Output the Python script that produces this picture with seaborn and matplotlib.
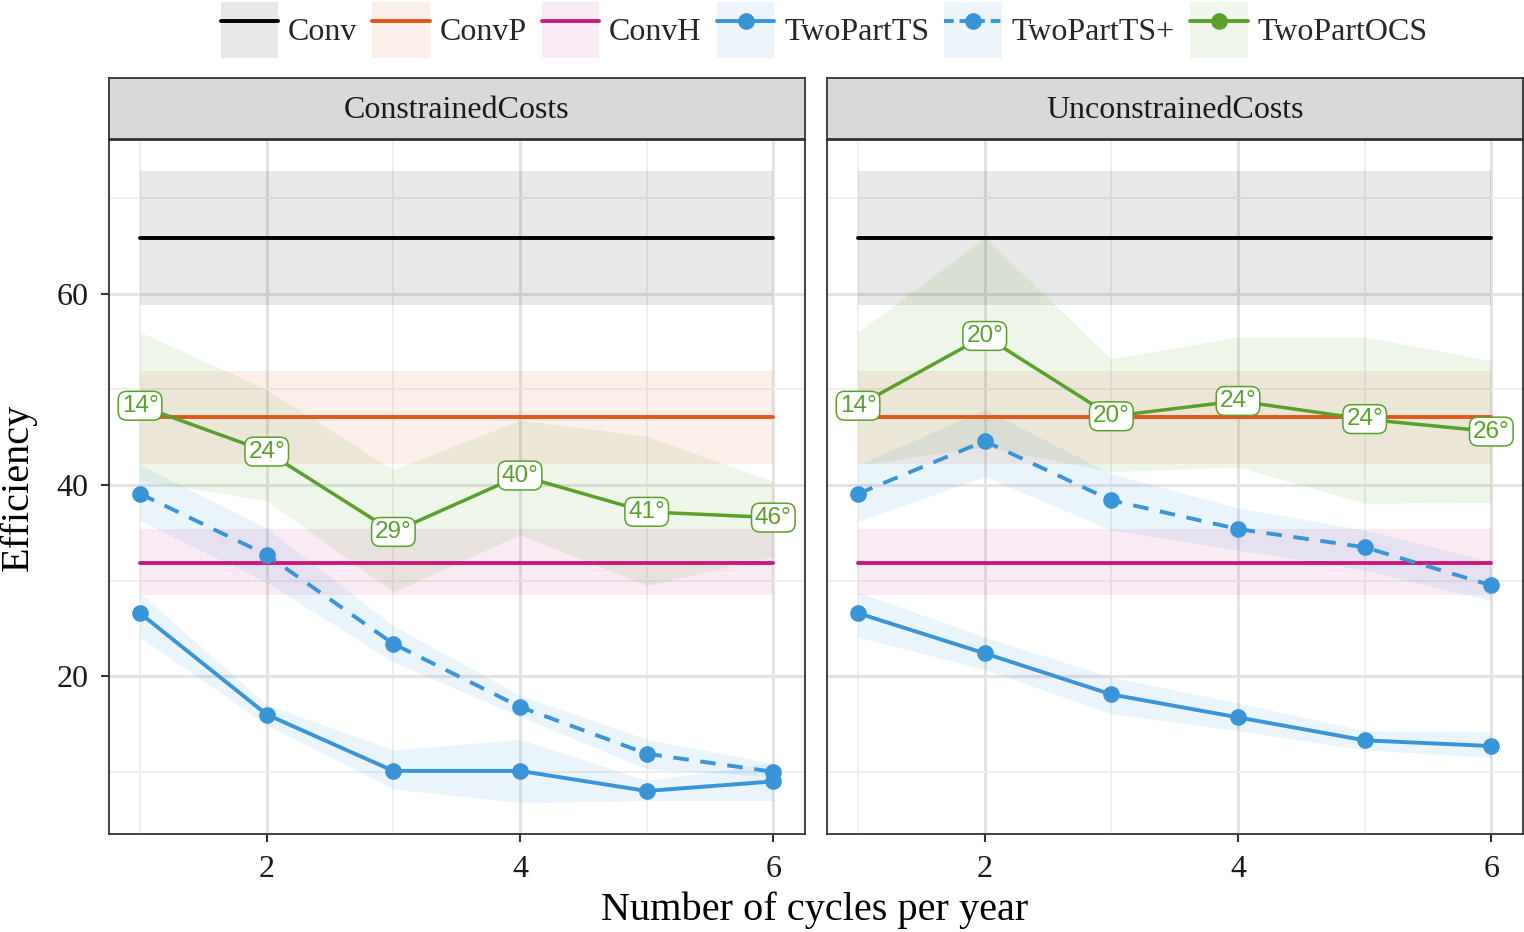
import matplotlib
matplotlib.use("Agg")
import matplotlib.pyplot as plt
import seaborn as sns
import numpy as np
import pandas as pd
from matplotlib.patches import Patch
from matplotlib.lines import Line2D
from matplotlib.legend_handler import HandlerTuple
from matplotlib.ticker import FixedLocator

# ---------------- data ----------------
cycles = [1, 2, 3, 4, 5, 6]
panel_names = ["ConstrainedCosts", "UnconstrainedCosts"]
series_names = ["Conv", "ConvP", "ConvH", "TwoPartTS", "TwoPartTS+", "TwoPartOCS"]

conv_mean, conv_lo, conv_hi = 65.9, 58.8, 72.9
convp_mean, convp_lo, convp_hi = 47.1, 42.2, 51.9
convh_mean, convh_lo, convh_hi = 31.9, 28.5, 35.4

ts_con = [26.6, 16.0, 10.1, 10.1, 8.0, 9.0]
ts_con_lo = [24.1, 14.9, 8.2, 6.8, 7.0, 7.0]
ts_con_hi = [28.7, 17.0, 12.3, 13.4, 9.1, 10.9]
tsp_con = [39.1, 32.7, 23.4, 16.8, 11.9, 10.0]
tsp_con_lo = [36.3, 29.8, 21.5, 15.8, 10.3, 9.5]
tsp_con_hi = [42.1, 35.5, 25.3, 18.0, 13.4, 10.9]
ocs_con = [48.3, 43.5, 35.1, 41.0, 37.2, 36.6]
ocs_con_lo = [40.5, 38.4, 28.8, 34.8, 29.5, 32.5]
ocs_con_hi = [56.0, 50.0, 41.6, 46.8, 45.1, 40.4]
ocs_con_angle = [14, 24, 29, 40, 41, 46]

ts_unc = [26.6, 22.4, 18.1, 15.7, 13.3, 12.7]
ts_unc_lo = [24.1, 20.7, 16.1, 14.3, 12.3, 11.5]
ts_unc_hi = [28.8, 24.1, 19.9, 17.2, 14.3, 14.2]
tsp_unc = [39.1, 44.6, 38.4, 35.4, 33.5, 29.5]
tsp_unc_lo = [36.2, 40.9, 35.3, 33.2, 31.1, 27.9]
tsp_unc_hi = [42.1, 47.9, 41.2, 37.6, 35.3, 32.0]
ocs_unc = [48.3, 55.6, 47.2, 48.8, 46.9, 45.6]
ocs_unc_lo = [42.1, 44.0, 41.4, 41.9, 38.1, 38.2]
ocs_unc_hi = [56.0, 65.9, 53.2, 55.5, 55.5, 53.0]
ocs_unc_angle = [14, 20, 20, 24, 24, 26]

x_major = [2, 4, 6]
x_minor = [1, 3, 5]
y_major = [20, 40, 60]
y_minor = [10, 30, 50, 70]

# ---------------- style ----------------
sns.set_theme(style="white")
plt.rcParams['font.family'] = ['Liberation Serif', 'DejaVu Serif']

c_conv = "#000000"
c_convp = "#E2561A"
c_convh = "#C51B7D"
c_ts = "#3A95D8"
c_ocs = "#5AA02C"
grid_major = "#E3E3E3"
grid_minor = "#EFEFEF"
dark = "#333333"

W, H = 1524, 932
fig = plt.figure(figsize=(W / 100, H / 100), dpi=100)

panel_left = [109, 827]
panel_w = 696
panel_top, panel_bot = 140, 834

LW = 2.8
MS = 12


def draw_panel(ax, ts, ts_lo, ts_hi, tsp, tsp_lo, tsp_hi, ocs, ocs_lo, ocs_hi, angles, show_y):
    ax.set_facecolor("white")
    # baseline ribbons
    for mean, lo, hi, col in [(conv_mean, conv_lo, conv_hi, c_conv),
                              (convp_mean, convp_lo, convp_hi, c_convp),
                              (convh_mean, convh_lo, convh_hi, c_convh)]:
        ax.fill_between(cycles, [lo] * len(cycles), [hi] * len(cycles),
                        color=col, alpha=0.09, lw=0, zorder=2)
    # model ribbons
    ax.fill_between(cycles, ts_lo, ts_hi, color=c_ts, alpha=0.1, lw=0, zorder=2)
    ax.fill_between(cycles, tsp_lo, tsp_hi, color=c_ts, alpha=0.1, lw=0, zorder=2)
    ax.fill_between(cycles, ocs_lo, ocs_hi, color=c_ocs, alpha=0.1, lw=0, zorder=2)

    # baseline lines
    for mean, col in [(conv_mean, c_conv), (convp_mean, c_convp), (convh_mean, c_convh)]:
        sns.lineplot(x=cycles, y=[mean] * len(cycles), color=col, lw=LW, ax=ax,
                     legend=False, zorder=3)
    # TwoPartTS
    sns.lineplot(x=cycles, y=ts, color=c_ts, lw=LW, marker='o', markersize=MS,
                 markeredgewidth=0, ax=ax, legend=False, zorder=4)
    # TwoPartTS+
    sns.lineplot(x=cycles, y=tsp, color=c_ts, lw=LW, marker='o', markersize=MS,
                 markeredgewidth=0, ax=ax, legend=False, zorder=4)
    ax.lines[-1].set_dashes((4, 3))
    # TwoPartOCS
    sns.lineplot(x=cycles, y=ocs, color=c_ocs, lw=2.5, ax=ax, legend=False, zorder=4)
    for xv, yv, a in zip(cycles, ocs, angles):
        ax.text(xv, yv, f"{a}°", ha='center', va='center', color=c_ocs,
                fontsize=17.5, family=['Liberation Sans', 'DejaVu Sans'], zorder=6,
                bbox=dict(boxstyle='round,pad=0.14,rounding_size=0.35',
                          fc='white', ec=c_ocs, lw=1.1))

    ax.set_xlim(0.755, 6.25)
    ax.set_ylim(3.5, 76.1)
    ax.xaxis.set_major_locator(FixedLocator(x_major))
    ax.xaxis.set_minor_locator(FixedLocator(x_minor))
    ax.yaxis.set_major_locator(FixedLocator(y_major))
    ax.yaxis.set_minor_locator(FixedLocator(y_minor))
    ax.set_axisbelow(True)
    ax.grid(which='major', color=grid_major, lw=2.2, zorder=0)
    ax.grid(which='minor', color=grid_minor, lw=1.4, zorder=0)
    ax.tick_params(which='minor', length=0)
    ax.tick_params(which='major', length=6, width=1.5, color=dark,
                   labelsize=23, labelcolor='#1a1a1a', pad=9, bottom=True)
    if show_y:
        ax.tick_params(axis='y', left=True)
    else:
        ax.tick_params(axis='y', left=False, labelleft=False)
    for s in ax.spines.values():
        s.set_color(dark)
        s.set_linewidth(1.3)
        s.set_visible(True)
    ax.set_xlabel("")
    ax.set_ylabel("")


panel_data = [
    (ts_con, ts_con_lo, ts_con_hi, tsp_con, tsp_con_lo, tsp_con_hi,
     ocs_con, ocs_con_lo, ocs_con_hi, ocs_con_angle),
    (ts_unc, ts_unc_lo, ts_unc_hi, tsp_unc, tsp_unc_lo, tsp_unc_hi,
     ocs_unc, ocs_unc_lo, ocs_unc_hi, ocs_unc_angle),
]

for i, (pl, name, pdata) in enumerate(zip(panel_left, panel_names, panel_data)):
    ax = fig.add_axes([pl / W, 1 - panel_bot / H, panel_w / W, (panel_bot - panel_top) / H])
    draw_panel(ax, *pdata, show_y=(i == 0))
    # strip
    sax = fig.add_axes([pl / W, 1 - 139 / H, panel_w / W, 61 / H])
    sax.set_facecolor("#D9D9D9")
    sax.set_xticks([])
    sax.set_yticks([])
    for s in sax.spines.values():
        s.set_color(dark)
        s.set_linewidth(1.3)
        s.set_visible(True)
    sax.text(0.5, 0.47, name, ha='center', va='center', fontsize=23, color='#1a1a1a',
             transform=sax.transAxes)

# axis titles
fig.text(815 / W, 1 - 910 / H, "Number of cycles per year", ha='center', va='center',
         fontsize=29, color='black')
fig.text(18 / W, 1 - 487 / H, "Efficiency", ha='center', va='center', rotation=90,
         fontsize=29, color='black')

# legend
series_colors = [c_conv, c_convp, c_convh, c_ts, c_ts, c_ocs]
series_markers = [None, None, None, 'o', 'o', 'o']
series_ls = ['-', '-', '-', '-', (0, (2.5, 1.5)), '-']
handles = []
for col, mk, ls in zip(series_colors, series_markers, series_ls):
    p = Patch(facecolor=col, alpha=0.09, edgecolor='none')
    ln = Line2D([], [], color=col, lw=LW, marker=mk, markersize=MS,
                markeredgewidth=0, linestyle=ls)
    handles.append((p, ln))

fig.legend(handles=handles, labels=series_names, loc='center',
           bbox_to_anchor=(824 / W, 1 - 30 / H), ncol=6, frameon=False,
           handler_map={tuple: HandlerTuple(ndivide=1, pad=0)},
           handlelength=1.8, handleheight=2.35, handletextpad=0.3,
           columnspacing=0.48, fontsize=23, borderpad=0, numpoints=1,
           borderaxespad=0)

fig.savefig("out.png", dpi=100)
